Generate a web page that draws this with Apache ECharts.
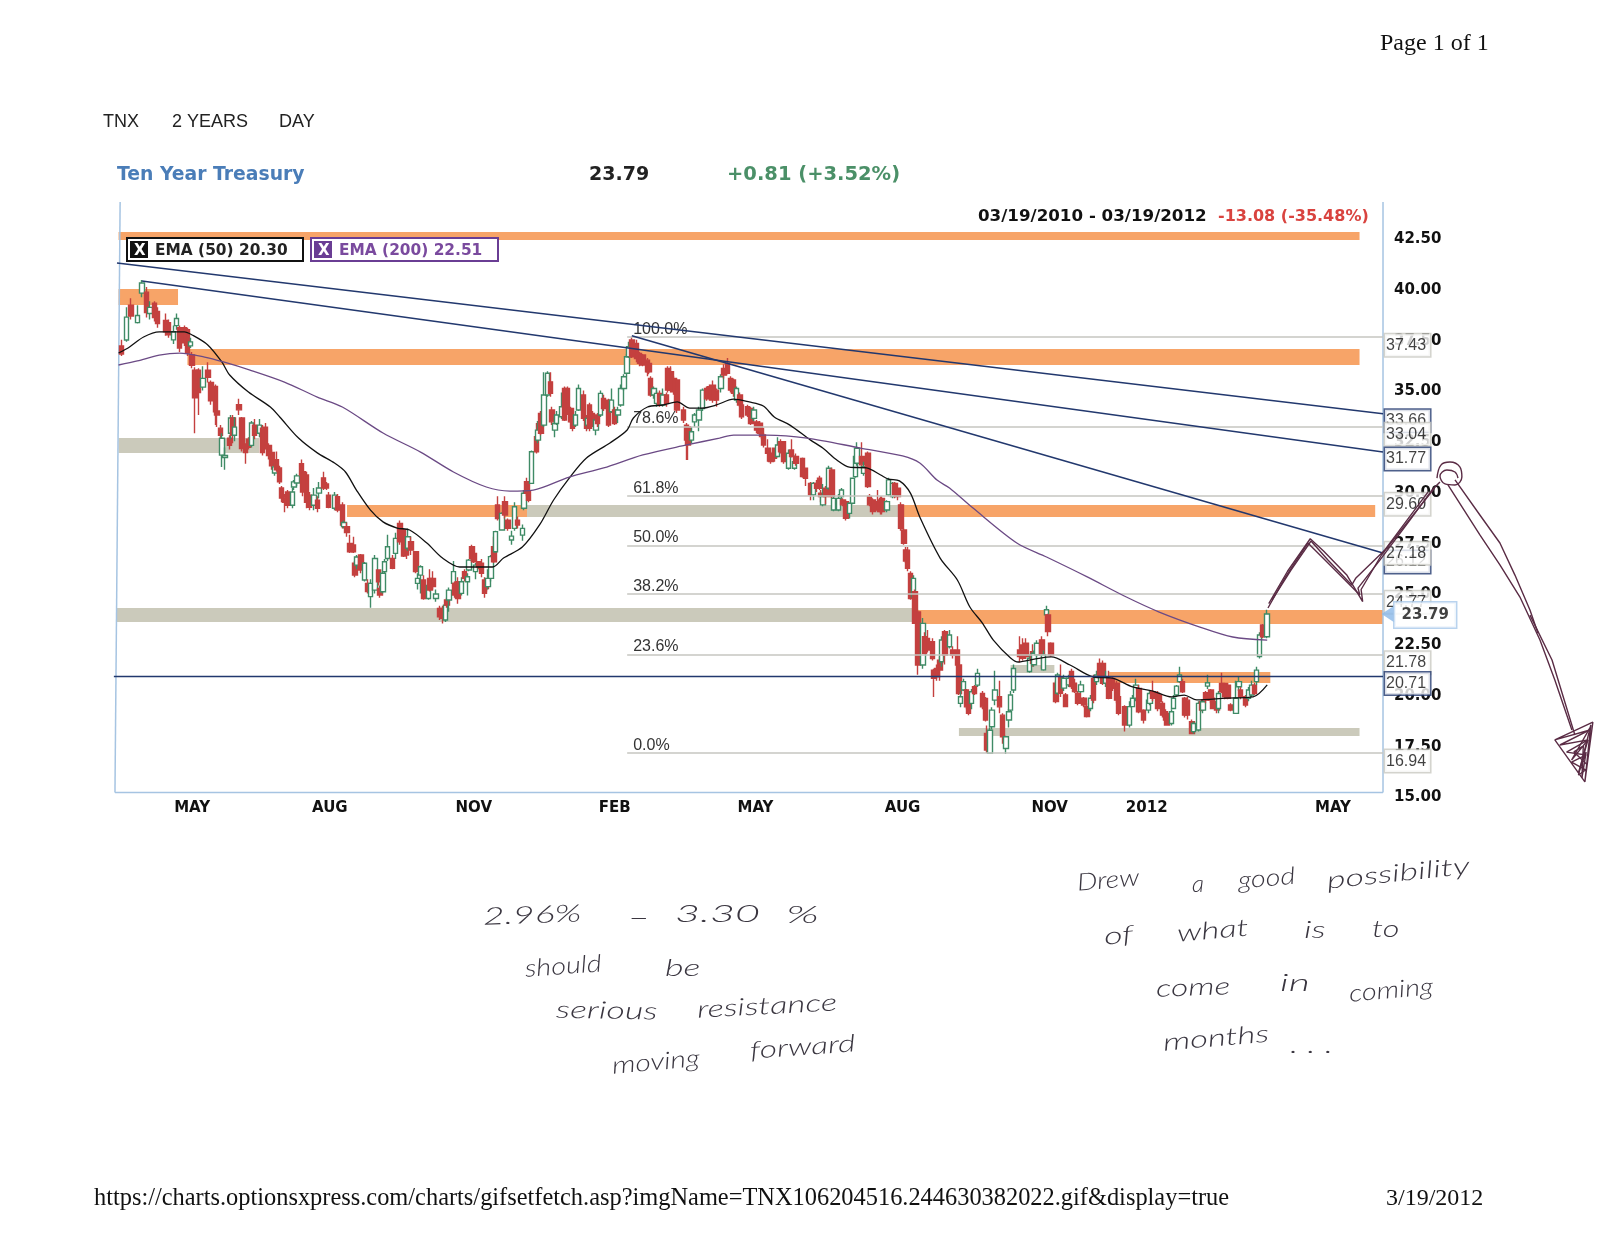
<!DOCTYPE html>
<html>
<head>
<meta charset="utf-8">
<title>TNX 2 YEARS DAY</title>
<script src="https://cdn.jsdelivr.net/npm/echarts@6/dist/echarts.min.js"></script>
<style>
  html, body { margin: 0; background: #fff; }
  #chart { width: 1600px; height: 1236px; }
</style>
</head>
<body>
<div id="chart"></div>
<script>
// all candle rows: [day since 2010-03-15, open, close, low, high]
const candlesSpring2010 = [
  [3,37.0,36.6,36.5,37.3],[6,37.29,38.42,37.2,38.9],[9,39.0,38.47,38.3,39.35],[13,38.15,38.5,38.1,39.0],
  [16,39.6,40.1,39.4,40.25],[19,39.65,38.65,38.4,39.9],[21,38.6,38.9,38.3,39.2],[24,39.1,38.4,38.2,39.2],
  [26,38.7,38.1,37.9,38.9],[31,38.25,37.7,37.5,38.6],[33,38.15,37.55,37.4,38.3],[36,37.3,37.7,37.1,38.0],
  [38,38.0,38.35,37.8,38.6],[40,37.9,36.9,36.7,38.0],[43,37.9,37.15,37.0,38.0],[45,37.8,36.65,36.5,37.9],
  [47,37.0,37.2,36.9,37.4],[48,36.55,36.05,35.9,36.7],[50,35.8,34.45,32.7,35.95],[52,35.8,34.7,33.6,35.9],
  [55,34.97,35.4,34.8,36.0],[58,35.8,35.45,35.2,36.2],[60,35.2,34.3,34.1,35.3],[63,35.0,33.75,33.1,35.1],
  [64,33.8,33.6,33.0,33.9],[66,32.95,32.6,32.4,33.1],[67,31.62,32.45,31.04,32.7],[69,31.5,31.6,30.9,32.0],
  [72,32.45,32.1,31.9,32.6],[73,32.7,33.45,32.4,33.6],[74,33.45,32.6,32.2,33.6],[75,32.6,33.0,32.3,33.5],
  [78,34.1,33.85,33.6,34.4],[80,33.45,31.95,31.8,33.5],[82,32.1,31.75,31.2,32.2],[84,32.4,32.0,31.9,32.5],
  [86,32.1,33.2,32.0,33.3],[88,33.1,32.6,32.4,33.4],[91,32.7,33.1,32.5,33.4],[93,32.95,31.75,31.6,33.1],
  [95,33.0,32.05,31.9,33.2],[97,32.1,31.6,31.4,32.2],[99,31.75,31.1,30.9,31.9],[101,30.74,31.04,30.6,31.2]
];
const candlesSummer2010 = [
  [102,31.4,30.9,30.8,31.8],[104,30.99,30.3,30.2,31.1],[105,30.0,29.5,29.3,30.1],[107,29.55,29.3,28.8,29.7],
  [109,29.8,29.15,29.0,29.9],[112,29.15,29.8,29.0,30.0],[113,30.05,30.3,29.9,30.4],[115,30.25,30.6,30.1,30.7],
  [118,31.2,30.64,30.5,31.4],[119,30.8,29.8,29.6,31.0],[121,30.64,29.3,29.0,30.8],[123,29.65,29.05,28.9,29.8],
  [126,29.15,29.65,28.9,30.0],[128,29.4,29.0,28.8,29.6],[129,29.75,30.0,29.5,30.3],[132,30.5,30.0,29.9,30.8],
  [134,30.2,30.0,29.9,30.3],[135,29.65,29.05,29.0,29.8],[139,29.0,29.65,28.9,29.8],[141,29.57,28.91,28.8,29.7],
  [144,29.16,28.17,28.0,29.3],[145,28.1,28.3,28.0,28.4],[147,28.1,27.8,27.6,28.3],[149,27.27,26.86,26.8,27.7],
  [151,27.19,26.86,26.8,27.6],[152,26.29,25.71,25.6,26.4],[153,26.2,26.6,26.0,26.7],[156,26.7,25.96,25.8,26.75],
  [158,25.47,26.29,25.4,26.35],[160,25.3,24.9,24.8,25.5],[162,24.65,25.3,24.1,25.5],[165,24.97,26.53,24.8,26.7],
  [167,25.96,25.38,25.2,26.0],[168,25.05,24.73,24.6,25.2],[170,24.89,25.8,24.8,26.0],[171,25.88,26.37,25.8,26.5],
  [173,26.53,27.11,26.4,27.7],[176,26.53,26.04,26.0,26.7],[178,26.78,27.52,26.5,27.8],[181,28.26,27.35,27.2,28.4],
  [183,27.93,26.65,26.6,28.0],[185,27.1,26.7,26.5,27.2],[186,27.03,27.6,26.9,28.0],[188,27.35,26.94,26.7,27.6]
];
const candlesAutumn2010 = [
  [191,26.86,25.88,25.8,26.9],[192,25.3,25.55,25.0,25.8],[194,25.71,26.12,24.8,26.2],[196,25.47,24.56,24.5,25.7],
  [199,24.56,25.2,24.5,25.5],[200,25.55,24.97,24.9,26.0],[202,25.55,25.14,25.0,25.9],[204,24.56,24.78,24.4,25.0],
  [206,24.07,23.66,23.5,24.2],[208,24.07,23.58,23.33,24.2],[210,23.5,24.23,23.4,24.3],[211,24.48,24.23,24.1,24.6],
  [212,24.48,24.97,23.9,25.1],[215,25.3,25.88,25.1,26.4],[216,25.3,24.73,24.6,25.4],[218,25.38,24.56,24.3,25.6],
  [220,24.81,25.38,24.7,25.6],[222,25.88,25.55,25.4,26.0],[224,25.38,25.63,24.7,25.8],[225,25.96,26.45,25.9,26.5],
  [227,27.11,26.53,26.4,27.2],[228,26.78,26.37,26.3,26.9],[229,25.88,26.2,25.5,26.3],[231,26.37,26.12,26.0,26.4],
  [233,26.29,25.8,25.6,26.5],[235,25.47,24.81,24.6,25.6],[236,25.4,25.05,24.9,25.5],[237,25.14,25.55,25.0,26.0],
  [239,25.55,26.62,25.4,26.7],[241,27.11,26.37,26.3,27.6],[242,26.86,27.85,26.8,27.9],[243,29.16,28.5,28.4,29.6],
  [246,27.93,28.75,27.9,28.8],[248,29.32,28.67,28.5,29.6],[250,28.42,28.01,27.9,28.5],[252,27.44,27.63,27.2,27.9],
  [254,28.01,29.08,27.9,29.3],[256,28.42,28.18,28.0,28.6],[259,27.68,28.01,27.4,28.2],[260,29.0,29.74,28.9,29.9],
  [262,30.31,29.74,29.6,30.5],[263,29.82,29.4,29.3,30.0],[265,30.23,31.79,30.2,31.85]
];
const candlesWinter2011 = [
  [268,32.53,31.79,31.7,33.2],[269,32.36,32.85,32.2,33.3],[271,33.67,32.69,32.6,33.8],[273,33.1,34.58,33.0,35.7],
  [275,34.58,35.65,34.5,35.75],[277,35.23,34.66,34.5,35.7],[278,33.84,33.26,33.1,34.0],[280,32.85,33.18,32.5,33.5],
  [281,33.18,33.6,33.1,33.8],[284,33.51,34.0,33.4,34.7],[286,34.9,33.35,33.3,35.0],[288,34.9,33.76,33.6,35.0],
  [290,33.92,33.26,33.2,34.0],[291,33.43,32.94,32.8,33.6],[293,33.1,33.6,33.0,33.8],[295,33.84,34.9,33.8,35.1],
  [298,34.58,33.43,33.3,34.8],[300,33.43,32.94,32.8,33.6],[301,33.1,33.43,32.9,33.6],[302,34.09,32.94,32.8,34.2],
  [304,33.67,33.1,33.0,33.8],[306,32.85,33.35,32.6,33.5],[307,33.6,33.18,33.0,33.7],[309,33.6,34.66,33.5,34.8],
  [311,34.41,33.92,33.8,34.6],[314,34.33,33.1,33.0,34.4],[316,33.76,34.33,33.7,34.9],[318,33.84,33.18,33.1,34.0],
  [320,33.6,33.84,33.2,34.0],[322,34.09,34.9,34.0,35.1],[324,34.9,35.48,34.8,35.6],[326,35.65,36.47,35.5,36.6],
  [327,36.47,36.96,36.4,37.2],[329,37.29,36.47,36.4,37.43],[332,37.12,36.38,36.2,37.3],[334,36.63,36.14,36.0,36.7],
  [336,36.55,36.06,36.0,36.6],[339,36.3,35.73,35.5,36.4],[340,36.14,35.73,35.6,36.2],[341,35.4,34.58,34.5,35.5],
  [343,34.58,34.9,34.4,35.0],[345,34.17,34.66,34.0,34.8],[347,34.66,34.09,34.0,34.8],[349,34.09,34.58,34.0,34.9]
];
const candlesSpring2011 = [
  [351,34.58,34.17,34.0,34.7],[352,35.89,34.82,34.7,36.0],[354,35.73,34.82,34.7,36.0],[356,35.4,34.74,34.6,35.5],
  [358,35.32,33.84,33.7,35.4],[362,33.84,33.35,33.2,34.0],[364,33.1,32.36,31.38,33.2],[365,33.02,32.12,31.38,33.1],
  [367,32.36,32.77,32.2,33.0],[369,33.26,33.6,33.0,33.7],[372,33.35,33.84,32.8,34.0],[374,33.92,34.82,33.8,34.9],
  [377,34.9,34.4,34.3,35.0],[379,34.99,34.41,34.3,35.1],[381,35.07,34.33,34.2,35.3],[383,34.82,34.33,34.0,34.9],
  [386,34.9,35.48,34.7,35.6],[388,35.89,35.56,35.4,36.1],[390,36.14,35.65,35.6,36.4],[392,35.4,34.82,34.7,35.5],
  [394,35.32,34.66,34.5,35.4],[396,34.33,34.9,34.2,35.0],[398,34.58,34.09,34.0,34.7],[399,34.09,33.51,33.4,34.2],
  [403,34.0,33.6,33.5,34.1],[405,33.92,33.18,33.1,34.0],[407,33.43,33.84,33.3,34.0],[409,33.26,32.85,32.7,33.35],
  [411,33.19,32.7,32.6,33.3],[412,32.94,32.53,32.4,33.0],[413,32.61,32.12,32.0,32.7],[416,31.96,31.71,31.3,32.4],
  [418,31.71,31.3,31.2,31.8],[420,31.96,31.46,31.3,32.0],[422,31.55,32.12,31.5,32.5],[424,32.28,31.79,31.7,32.4],
  [426,32.28,31.3,31.2,32.3],[429,30.97,31.71,30.9,31.9],[431,31.87,31.55,31.5,32.4],[433,30.97,31.3,30.9,31.6]
];
const candlesSummer2011 = [
  [434,31.55,31.22,31.1,31.7],[438,31.46,30.56,30.5,31.5],[440,30.97,30.48,30.1,31.0],[443,30.23,29.66,29.4,30.3],
  [445,29.66,30.23,29.4,30.3],[447,30.23,29.99,29.8,30.4],[449,30.48,29.99,29.9,30.6],[450,29.74,29.58,29.3,29.9],
  [451,29.17,29.58,29.1,30.2],[453,29.99,29.58,29.2,30.1],[455,29.99,30.97,29.9,31.1],[457,30.89,29.58,29.5,31.0],
  [458,28.92,29.49,28.85,29.6],[461,28.92,29.49,28.85,29.7],[463,29.58,29.9,29.4,30.0],[464,29.41,29.17,29.1,29.5],
  [466,29.33,28.51,28.4,29.4],[468,28.75,29.25,28.5,29.3],[470,29.25,30.48,29.2,30.5],[472,30.56,31.55,30.5,31.7],
  [473,31.22,31.96,31.1,32.25],[476,31.55,31.14,31.0,32.25],[477,30.72,31.05,30.6,31.3],[480,31.71,30.07,30.0,31.8],
  [481,29.58,29.17,29.1,29.7],[483,29.41,28.84,28.7,29.5],[486,29.33,28.92,28.8,29.9],[488,29.41,28.84,28.7,29.6],
  [489,29.49,28.84,28.7,29.6],[492,28.92,29.33,28.8,29.4],[493,29.66,30.4,29.6,30.5],[496,29.58,30.23,29.5,30.3],
  [497,30.23,29.66,29.5,30.3],[499,29.99,29.58,29.4,30.0],[501,29.17,28.02,27.9,29.3],[503,27.93,27.28,27.2,28.0],
  [504,26.95,26.4,26.3,27.1],[505,26.94,26.04,25.9,27.1],[507,25.79,24.56,24.5,25.9],[509,24.64,25.55,24.5,25.7],
  [510,24.89,23.33,23.3,25.0],[512,23.9,21.28,20.8,24.0],[515,21.28,23.33,21.1,23.6]
];
const candlesAutumn2011 = [
  [516,22.67,21.85,21.8,22.9],[518,22.59,22.02,21.9,23.0],[521,22.43,21.6,21.5,22.6],[522,21.03,20.62,19.7,21.1],
  [524,21.11,20.7,20.5,21.3],[526,21.52,21.03,20.5,21.7],[527,21.44,22.51,21.2,22.7],[529,22.92,21.77,21.3,23.0],
  [532,22.18,22.76,22.1,23.0],[534,22.02,21.77,21.6,22.2],[537,22.02,21.28,21.2,22.7],[538,21.28,19.88,19.8,21.3],
  [539,19.39,19.72,19.2,20.0],[541,20.05,20.46,20.0,20.6],[543,20.05,19.22,19.1,20.1],[544,19.88,18.9,18.8,20.0],
  [546,19.39,19.96,19.1,20.1],[548,20.21,19.88,19.8,20.3],[550,20.29,20.87,20.2,21.1],[553,19.88,19.22,19.1,20.0],
  [555,19.63,18.57,18.5,19.7],[556,17.91,17.09,16.94,18.3],[558,16.94,18.07,16.94,18.2],[559,18.24,19.06,18.1,19.2],
  [561,19.55,20.05,19.3,21.0],[564,19.72,19.22,18.9,20.5],[566,18.81,17.75,17.4,18.9],[568,17.17,17.75,16.9,17.8],
  [570,18.57,18.98,18.2,19.1],[571,19.06,19.8,19.0,20.0],[573,20.05,21.11,19.9,21.3],[577,22.02,21.7,21.4,22.7],
  [579,22.27,21.61,21.5,22.6],[581,22.35,21.7,21.6,22.6],[583,20.96,21.61,20.9,21.8],[585,21.94,21.37,21.2,22.3],
  [586,21.29,21.86,21.2,22.0],[588,21.78,22.35,21.7,22.5],[591,22.52,21.78,21.1,22.7],[592,21.04,21.78,21.0,22.0],
  [594,23.75,24.0,23.7,24.2],[595,23.75,22.93,22.7,23.8],[597,22.35,21.78,21.7,22.4]
];
const candlesWinter2012 = [
  [600,20.38,19.48,19.4,20.5],[601,19.89,20.79,19.8,20.9],[603,20.71,19.89,19.7,21.3],[605,20.14,20.63,20.0,20.8],
  [606,19.81,19.23,19.2,19.9],[608,20.3,20.63,20.2,20.8],[610,20.96,20.22,20.1,21.1],[612,20.38,19.97,19.9,20.6],
  [614,19.89,19.4,19.3,20.0],[616,19.97,20.3,19.9,20.5],[618,19.64,19.31,19.2,19.7],[620,19.23,18.74,18.7,19.4],
  [622,19.14,19.64,19.0,19.8],[624,20.62,19.55,19.4,20.8],[626,20.46,20.79,20.3,21.0],[628,21.36,20.79,20.7,21.6],
  [630,21.36,20.38,20.3,21.5],[632,20.38,20.7,20.2,21.0],[634,20.62,19.64,19.6,21.0],[636,20.62,20.13,20.0,20.7],
  [639,20.38,19.55,19.4,20.5],[640,19.72,18.9,18.8,19.8],[644,19.23,18.32,18.0,19.3],[647,18.32,19.23,18.2,19.5],
  [649,19.23,19.64,19.2,19.8],[651,19.64,20.29,19.5,20.6],[653,20.13,18.98,18.9,20.3],[656,19.06,18.57,18.4,19.1],
  [659,19.06,19.55,18.9,19.7],[660,19.39,19.88,19.3,20.0],[662,19.96,19.64,19.5,20.5],[665,19.88,19.14,19.0,20.0],
  [666,19.8,19.47,19.4,19.9],[668,19.39,18.81,18.7,19.5],[670,18.98,18.57,18.5,19.1],[671,18.9,18.32,18.3,19.0],
  [674,18.4,18.98,18.3,19.1],[675,19.14,19.64,19.1,19.8],[677,19.8,20.24,19.7,20.3],[679,20.46,20.79,20.4,21.2],
  [681,20.46,19.96,19.9,20.6],[682,19.64,18.81,18.7,19.7],[684,19.55,18.81,18.6,19.7],[687,18.49,17.91,17.9,18.6],
  [688,18.0,18.4,17.9,18.5],[691,18.08,19.39,18.0,19.5],[693,19.47,19.06,19.0,19.6],[694,19.06,19.47,18.9,19.6],
  [696,19.92,19.55,19.4,20.0],[697,20.24,20.41,20.1,20.8],[699,20.05,19.55,19.4,20.1],[700,19.64,19.14,19.1,19.7],
  [703,19.47,19.06,18.9,19.6],[704,19.14,19.88,18.9,20.0],[706,20.37,19.96,19.9,20.9],[708,20.37,19.72,19.6,20.4],
  [710,20.29,19.64,19.6,20.4],[712,19.31,19.06,19.0,19.4],[715,18.9,19.64,18.9,20.5],[717,20.21,20.46,20.0,20.7],
  [718,20.05,19.72,19.6,20.2],[721,19.72,19.31,19.2,19.8],[723,19.64,20.05,19.5,20.2],[725,19.8,20.29,19.7,20.5],
  [727,20.29,19.88,19.8,20.4],[728,20.46,21.03,20.3,21.2],[730,21.7,22.76,21.6,22.9],[732,23.25,22.67,22.6,23.3],
  [735,22.67,23.79,22.6,24.0]
];

const ema50Days = [1,8,17,27,43,48,58,67,72,84,98,104,116,128,139,146,153,162,170,179,187,198,208,219,240,247,259,270,279,289,300,315,326,330,339,349,358,366,374,383,394,404,413,420,430,443,451,460,468,479,488,493,500,507,513,526,537,545,553,560,571,576,587,597,609,624,636,649,662,674,682,690,709,726,735];
const ema50Values = [36.65,36.95,37.44,37.69,37.69,37.54,37.05,36.21,35.57,34.73,33.99,33.5,32.46,31.73,31.23,30.79,29.9,28.91,28.33,28.03,27.93,27.29,26.55,26.11,26.11,26.55,27.09,28.18,29.41,30.49,31.48,32.22,32.86,33.45,33.99,34.09,34.24,33.94,33.94,34.09,34.38,34.24,34.04,33.5,33.1,32.37,31.97,31.38,31.03,30.99,30.64,30.44,30.35,29.75,28.57,26.55,25.47,24.14,23.35,22.51,21.63,21.43,21.58,21.68,21.28,20.69,20.64,20.2,20.0,19.71,19.8,19.56,19.65,19.71,20.3];
const ema200Days = [1,13,27,40,56,68,85,107,128,144,170,194,215,236,251,266,289,311,336,364,385,394,415,441,475,502,513,524,532,547,575,594,620,645,666,692,713,735];
const ema200Values = [36.06,36.26,36.55,36.65,36.45,36.21,35.81,35.22,34.48,33.99,32.71,31.77,30.79,30.05,29.85,29.9,30.54,30.99,31.63,32.12,32.46,32.61,32.61,32.46,31.97,31.58,31.23,30.39,30.0,29.01,27.29,26.6,25.62,24.63,23.89,23.15,22.66,22.51];

// trend lines: [startDay, startValue, endDay, endValue]
const trendLines = [[0,41.08,809,33.66],[16,40.2,809,31.77],[329,37.5,809,26.8],[-2,20.71,809,20.71]];

// support / resistance bands: [fromDay, toDay, low, high, kind]
const bands = [
  [1,794,42.22,42.61,"o"],[1,39,39.01,39.8,"o"],[45,794,36.06,36.85,"o"],[1,91,31.72,32.46,"g"],
  [147,262,28.57,29.16,"o"],[262,500,28.57,29.16,"g"],[500,804,28.57,29.16,"o"],
  [0,509,23.4,24.09,"g"],[509,809,23.3,23.99,"o"],[571,599,20.89,21.28,"g"],
  [634,737,20.39,20.94,"o"],[538,794,17.78,18.18,"g"]
];

const fibValues = [37.43,33.04,29.6,27.18,24.77,21.78,16.94];
const fibLabels = ["100.0%","78.6%","61.8%","50.0%","38.2%","23.6%","0.0%"];
const fibStartDay = 326;
const lastDay = 809;

const boxTexts = ["37.43","33.66","33.04","31.77","29.60","26.12","27.18","24.77","21.78","20.71","16.94"];
const boxLevels = [37.43,33.66,33.04,31.77,29.6,26.7,27.18,24.77,21.78,20.71,16.94];
const boxKinds = ["f","t","f","t","f","t","f","f","f","t","f"];
const lastClose = 23.79;

const yTicks = [15,17.5,20,22.5,25,27.5,30,32.5,35,37.5,40,42.5];
const xTickDays = [48,136,228,318,408,502,596,658,777];
const xTickLabels = ["MAY","AUG","NOV","FEB","MAY","AUG","NOV","2012","MAY"];

// hand drawn arrow, pen strokes as [day, value]
const penUp1 = [[735.5,24.09],[746.3,25.57],[761,27.29],[770,26.6],[784.7,25.47],[794.2,24.73],[793,25.07],[807,26.45],[826.2,28.42],[840.3,29.9],[845.4,30.3]];
const penUp2 = [[738,24.48],[750.2,25.96],[763,27.39],[773.8,26.45],[789,25.22],[791.7,25.57],[810.2,26.95],[837.7,29.8]];
const penUp3 = [[736,24.3],[748,25.9],[762.5,27.5],[771,26.9],[786,25.7],[796,24.4],[795,25.0],[808,26.7],[828,28.65],[842,30.0]];
const penLoop = [[843.5,30.49],[846,31.13],[851.8,31.28],[858.1,31.04],[859.4,30.54],[855,30.15],[848.6,30.2],[845.4,30.59],[849.8,30.89],[855,30.79],[856.9,30.49]];
const penDown1 = [[850.5,30.15],[870.9,27.69],[883.7,26.21],[896.5,24.63],[909.3,22.51],[918.8,20.54],[929.7,18.08]];
const penDown2 = [[855,30.4],[870.9,28.67],[883.7,27.29],[893.3,25.71],[902.9,23.99],[908,22.86]];
const penDown3 = [[902.9,23.74],[917,21.53],[931.6,17.83]];
const penHead = [[918.8,17.59],[943.1,18.47],[938,15.52],[918.8,17.59],[941.2,18.08],[922,17.34],[940,17.59],[926.3,16.99],[938.8,16.85],[929.5,16.5],[938.4,16.11],[933.9,15.86],[941.8,18.33],[938,15.52]];
const penHeadFill = [[941.2,18.18],[929.5,16.6],[940,17.59],[933.9,15.97],[938.8,16.99],[936.1,15.71],[937,17.3],[931,17.0],[939,16.4]];

// handwritten notes: [word, x, y, rising angle in degrees, x stretch]
const notes = [
  ["2.96%",483,917,2,1.55],["—",630,917,0,1],["3.30",675,914,0,1.8],["%",786,915,0,1.9],
  ["should",525,969,4,1.2],["be",665,968,0,1.5],
  ["serious",556,1010,-1,1.5],["resistance",697,1010,3,1.45],
  ["moving",612,1066,5,1.25],["forward",750,1051,4,1.4],
  ["Drew",1077,883,5,1.2],["a",1192,884,0,1],["good",1238,881,5,1.2],["possibility",1327,881,6,1.5],
  ["of",1104,937,5,1.5],["what",1177,934,5,1.45],["is",1304,930,0,1.5],["to",1372,929,0,1.35],
  ["come",1156,989,2,1.4],["in",1280,983,0,1.7],["coming",1349,994,5,1.2],
  ["months",1163,1043,5,1.45],[". . .",1290,1045,0,1.5]
];

const sansBold = '"DejaVu Sans", Verdana, sans-serif';
const sansFont = '"Liberation Sans", Arial, sans-serif';
const serifFont = '"Liberation Serif", "Times New Roman", serif';
// price labels sit a little under their level in the original
const labelDrop = 0.25;
const edgeColor = "#a6c4e2";

const candles = [].concat(candlesSpring2010, candlesSummer2010, candlesAutumn2010, candlesWinter2011,
  candlesSpring2011, candlesSummer2011, candlesAutumn2011, candlesWinter2012);

function penSeries(points) {
  return {
    type: "line",
    data: points,
    symbol: "none",
    silent: true,
    z: 20,
    lineStyle: { color: "#5a2c45", width: 1.4 }
  };
}

function edgeSeries(points) {
  return {
    type: "line",
    data: points,
    symbol: "none",
    silent: true,
    z: 1,
    lineStyle: { color: edgeColor, width: 1.5 }
  };
}

function pageText(text, x, y, font, fill, extra) {
  return Object.assign({
    type: "text", x: x, y: y, z: 100, silent: true,
    style: { text: text, font: font, fill: fill, textVerticalAlign: "middle" }
  }, extra || {});
}

const legendItems = [
  { x: 127, w: 176, color: "#111", text: "EMA (50) 20.30", fill: "#222" },
  { x: 311, w: 187, color: "#6a3d94", text: "EMA (200) 22.51", fill: "#7a4a9e" }
];

const graphics = [
  pageText("Page 1 of 1", 1380, 44, "24px " + serifFont, "#111"),
  pageText("TNX", 103, 122, "18px " + sansFont, "#222"),
  pageText("2 YEARS", 172, 122, "18px " + sansFont, "#222"),
  pageText("DAY", 279, 122, "18px " + sansFont, "#222"),
  pageText("Ten Year Treasury", 117, 175, "bold 18.8px " + sansBold, "#4a7db8"),
  pageText("23.79", 589, 175, "bold 19px " + sansBold, "#222"),
  pageText("+0.81 (+3.52%)", 727, 175, "bold 19.5px " + sansBold, "#4b9068"),
  pageText("03/19/2010 - 03/19/2012", 978, 217, "bold 16.7px " + sansBold, "#111"),
  pageText("-13.08 (-35.48%)", 1218, 217, "bold 16px " + sansBold, "#d9433f"),
  pageText("https://charts.optionsxpress.com/charts/gifsetfetch.asp?imgName=TNX106204516.244630382022.gif&display=true", 94, 1199, "24.4px " + serifFont, "#111"),
  pageText("3/19/2012", 1386, 1199, "24px " + serifFont, "#111")
];

legendItems.forEach(item => {
  graphics.push({
    type: "rect", z: 100, silent: true,
    shape: { x: item.x, y: 238, width: item.w, height: 23 },
    style: { fill: "#fff", stroke: item.color, lineWidth: 2 }
  });
  graphics.push({
    type: "rect", z: 101, silent: true,
    shape: { x: item.x + 3, y: 241, width: 18, height: 17 },
    style: { fill: item.color }
  });
  graphics.push(pageText("X", item.x + 7, 251, "bold 15px " + sansBold, "#fff", { z: 102 }));
  graphics.push(pageText(item.text, item.x + 28, 251, "bold 15.4px " + sansBold, item.fill, { z: 102 }));
});

notes.forEach(n => {
  graphics.push(pageText(n[0], n[1], n[2], 'italic 300 24px "Lato", sans-serif', "#3a3640", {
    rotation: n[3] * Math.PI / 180,
    scaleX: n[4]
  }));
});

const chart = echarts.init(document.getElementById("chart"), null, { renderer: "canvas" });

chart.setOption({
  backgroundColor: "#fff",
  animation: false,
  // the grid runs past the drawn frame so the pen strokes and dropped labels stay on the same scales
  grid: { left: 112.3, right: 0, top: 202, bottom: 423.2 },
  graphic: graphics,
  xAxis: {
    type: "value",
    min: -3,
    max: 947.66,
    splitLine: { show: false },
    axisTick: { show: false },
    axisLine: { show: false, onZero: false },
    axisLabel: {
      customValues: xTickDays,
      margin: -12.3,
      color: "#111",
      fontFamily: sansBold,
      fontWeight: "bold",
      fontSize: 15,
      formatter: v => xTickLabels[xTickDays.indexOf(+v)] || ""
    }
  },
  yAxis: {
    type: "value",
    position: "right",
    offset: -217,
    min: 14,
    max: 44.09,
    splitLine: { show: false },
    axisTick: { show: false },
    axisLine: { show: false, onZero: false },
    axisLabel: {
      customValues: yTicks.map(v => v - labelDrop),
      margin: 11,
      color: "#111",
      fontFamily: sansBold,
      fontWeight: "bold",
      fontSize: 15,
      formatter: v => (Number(v) + labelDrop).toFixed(2)
    }
  },
  series: [
    Object.assign(edgeSeries([[-1.3, 15], [lastDay, 15]]), { name: "bottom edge" }),
    Object.assign(edgeSeries([[2, 44.09], [-1.3, 15]]), { name: "left edge" }),
    Object.assign(edgeSeries([[lastDay, 15], [lastDay, 44.09]]), { name: "right edge" }),
    {
      name: "bands",
      type: "line",
      data: [],
      z: 1,
      silent: true,
      markArea: {
        silent: true,
        data: bands.map(b => [
          { coord: [b[0], b[3]], itemStyle: { color: b[4] === "o" ? "#f7a468" : "#cbcabb", opacity: 1 } },
          { coord: [b[1], b[2]] }
        ])
      }
    },
    {
      name: "retracement",
      type: "line",
      data: [],
      z: 2,
      silent: true,
      markLine: {
        silent: true,
        symbol: "none",
        animation: false,
        lineStyle: { color: "#c6c6c0", type: "solid", width: 1.5 },
        label: { position: "insideStartTop", color: "#333", fontFamily: sansFont, fontSize: 16, distance: 0, padding: [0, 0, 0, 6] },
        data: fibValues.map((v, i) => [
          { coord: [fibStartDay, v], label: { formatter: fibLabels[i] } },
          { coord: [lastDay, v] }
        ])
      }
    },
    {
      name: "TNX",
      type: "candlestick",
      data: candles,
      encode: { x: 0, y: [1, 2, 3, 4] },
      barWidth: 5,
      z: 4,
      silent: true,
      itemStyle: {
        color: "#ffffff",
        color0: "#c4403f",
        borderColor: "#3f8b66",
        borderColor0: "#c4403f",
        borderWidth: 1.4
      }
    },
    {
      name: "EMA (50)",
      type: "line",
      data: ema50Days.map((d, i) => [d, ema50Values[i]]),
      symbol: "none",
      smooth: 0.3,
      z: 6,
      silent: true,
      lineStyle: { color: "#111", width: 1.3 }
    },
    {
      name: "EMA (200)",
      type: "line",
      data: ema200Days.map((d, i) => [d, ema200Values[i]]),
      symbol: "none",
      smooth: 0.3,
      z: 6,
      silent: true,
      lineStyle: { color: "#6b4a85", width: 1.3 }
    }
  ].concat(trendLines.map(t => ({
    type: "line",
    data: [[t[0], t[1]], [t[2], t[3]]],
    symbol: "none",
    z: 7,
    silent: true,
    lineStyle: { color: "#22386e", width: 1.5 }
  }))).concat([
    {
      name: "value boxes",
      type: "scatter",
      clip: false,
      symbolSize: 0,
      z: 8,
      silent: true,
      data: boxLevels.map((v, i) => ({
        value: [lastDay, v],
        label: {
          show: true,
          position: "right",
          distance: 2,
          offset: [0, boxKinds[i] === "t" ? 7 : 8],
          formatter: boxTexts[i],
          fontFamily: sansFont,
          fontSize: 16,
          color: "#111",
          backgroundColor: "#fff",
          borderColor: boxKinds[i] === "t" ? "#22386e" : "#c8c8c0",
          borderWidth: 1.5,
          padding: [4, 4, 2, 1]
        }
      }))
    },
    {
      name: "last price",
      type: "scatter",
      clip: false,
      silent: true,
      z: 9,
      symbol: "triangle",
      symbolRotate: 90,
      symbolSize: [17, 13],
      symbolOffset: [5, 0],
      itemStyle: { color: "#8ab8e8" },
      data: [[lastDay, lastClose]],
      label: {
        show: true,
        position: "right",
        distance: 0,
        offset: [0, 1],
        formatter: lastClose.toFixed(2),
        fontFamily: sansBold,
        fontWeight: "bold",
        fontSize: 15,
        color: "#111",
        backgroundColor: "#fff",
        borderColor: "#a8c8ea",
        borderWidth: 1.5,
        padding: [5, 7, 5, 7]
      }
    }
  ], [penUp1, penUp2, penUp3, penDown1, penDown2, penDown3, penHead, penHeadFill].map(penSeries), [
    Object.assign(penSeries(penLoop), { smooth: 0.4 })
  ])
});

window.addEventListener("resize", () => chart.resize());
</script>
</body>
</html>
